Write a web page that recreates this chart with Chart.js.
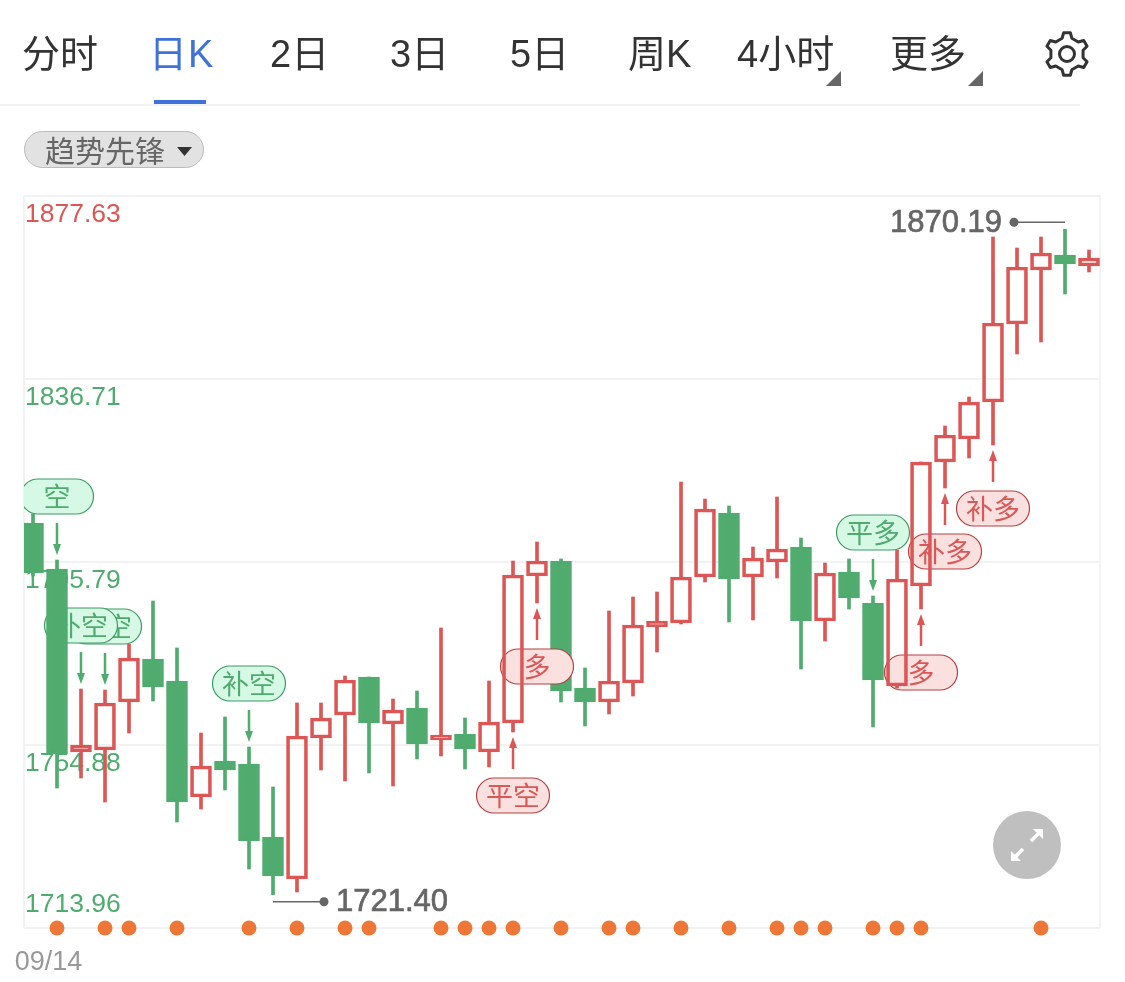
<!DOCTYPE html>
<html>
<head>
<meta charset="utf-8">
<script src="https://cdn.jsdelivr.net/npm/chart.js@4/dist/chart.umd.min.js"></script>
<style>
    html, body { margin: 0; padding: 0; background: #fff; width: 1125px; height: 982px; overflow: hidden; }
    body { position: relative; font-family: "Liberation Sans", "Noto Sans CJK SC", sans-serif; }
    canvas { position: absolute; left: 0; top: 0; }
    .tab { position: absolute; top: 29px; height: 50px; line-height: 50px; font-size: 38px; color: #333; white-space: nowrap; }
    .tab.active { color: #3f72d9; }
    #underline { position: absolute; left: 154px; top: 100px; width: 52px; height: 4px; background: #3f72d9; }
    #divider { position: absolute; left: 0; top: 104px; width: 1080px; height: 2px; background: #f2f2f2; }
    .corner { position: absolute; width: 15px; height: 15px; background: #666; clip-path: polygon(100% 0, 100% 100%, 0 100%); }
    #strategy { position: absolute; left: 24px; top: 131px; width: 178px; height: 35px; border: 1px solid #bbb; border-radius: 19px; background: #e2e2e2; color: #666; font-size: 30px; line-height: 35px; }
    #strategy span { position: absolute; left: 20px; top: 2px; }
    #strategy i { position: absolute; left: 152px; top: 15px; width: 15px; height: 9px; background: #333; clip-path: polygon(0 0, 100% 0, 50% 100%); }
    #gear { position: absolute; left: 1043px; top: 30px; }
    #expand { position: absolute; left: 993px; top: 811px; }
</style>
</head>
<body>
<canvas id="myChart" width="1125" height="982"></canvas>

<span class="tab" style="left:22px">分时</span>
<span class="tab active" style="left:149px">日<span style="margin-left:1px">K</span></span>
<span class="tab" style="left:270px">2日</span>
<span class="tab" style="left:390px">3日</span>
<span class="tab" style="left:510px">5日</span>
<span class="tab" style="left:628px">周K</span>
<span class="tab" style="left:737px">4小时</span>
<span class="tab" style="left:890px">更多</span>
<div class="corner" style="left:826px;top:71px"></div>
<div class="corner" style="left:968px;top:71px"></div>
<div id="underline"></div>
<div id="divider"></div>
<div id="strategy"><span>趋势先锋</span><i></i></div>
<svg id="gear" width="48" height="48" viewBox="0 0 48 48" fill="none" stroke="#333" stroke-width="3" stroke-linejoin="round">
    <circle cx="24" cy="24" r="7.5"></circle>
    <path id="gearPath"></path>
</svg>
<svg id="expand" width="68" height="68" viewBox="0 0 68 68">
    <circle cx="34" cy="34" r="34" fill="#bfbfbf"></circle>
    <path d="M38 30 L46 22" stroke="#fff" stroke-width="3.5"></path>
    <path d="M40 18 L50 18 L50 28 Z" fill="#fff"></path>
    <path d="M30 38 L22 46" stroke="#fff" stroke-width="3.5"></path>
    <path d="M18 40 L18 50 L28 50 Z" fill="#fff"></path>
</svg>

<script>
var axisTicks = [1877.63, 1836.71, 1795.79, 1754.88, 1713.96];
var firstDate = '09/14';

// Bougies : ouverture, cloture, plus haut, plus bas
var opens = [1804.52, 1794.23, 1753.31, 1753.76, 1764.49, 1774.11, 1769.19, 1743.25, 1751.30, 1750.63, 1734.31, 1724.92, 1756.44, 1761.59, 1770.08,
    1759.57, 1763.15, 1756.00, 1757.34, 1753.31, 1759.80, 1792.67, 1796.02, 1767.62, 1764.49, 1768.74, 1781.26, 1782.16, 1792.44, 1806.75,
    1792.44, 1795.80, 1799.15, 1782.60, 1793.56, 1786.63, 1768.07, 1790.43, 1818.16, 1823.30, 1831.57, 1849.01, 1861.09, 1864.44, 1861.98];
var closes = [1793.34, 1752.87, 1754.88, 1764.27, 1774.33, 1767.85, 1742.13, 1750.18, 1749.29, 1733.41, 1725.59, 1756.89, 1760.92, 1769.41, 1759.80,
    1762.70, 1755.10, 1757.11, 1753.98, 1760.02, 1792.89, 1796.02, 1766.95, 1764.49, 1769.19, 1781.71, 1782.60, 1792.44, 1807.65, 1792.00,
    1796.69, 1798.70, 1782.60, 1793.34, 1787.75, 1769.41, 1792.00, 1818.16, 1824.19, 1831.57, 1849.24, 1861.76, 1864.89, 1862.43, 1863.77];
var highs = [1806.53, 1796.24, 1767.40, 1767.18, 1777.46, 1787.08, 1776.57, 1757.56, 1761.14, 1754.43, 1745.49, 1764.27, 1764.27, 1770.31, 1770.08,
    1765.16, 1766.95, 1781.04, 1760.92, 1769.19, 1796.02, 1800.27, 1796.47, 1772.10, 1784.84, 1787.97, 1789.09, 1813.68, 1809.88, 1808.32,
    1799.15, 1810.33, 1801.16, 1795.57, 1796.47, 1788.19, 1798.48, 1818.16, 1826.21, 1832.69, 1868.47, 1866.01, 1868.47, 1870.19, 1865.56];
var lows = [1792.67, 1745.26, 1747.50, 1742.13, 1757.56, 1764.72, 1737.66, 1740.57, 1744.82, 1727.15, 1721.40, 1722.01, 1749.29, 1746.83, 1748.62,
    1745.71, 1751.75, 1752.42, 1749.51, 1749.96, 1757.78, 1786.63, 1764.49, 1759.13, 1761.81, 1765.83, 1775.67, 1781.93, 1791.32, 1782.38,
    1782.83, 1792.22, 1771.87, 1778.13, 1785.29, 1758.90, 1767.62, 1785.29, 1812.34, 1819.05, 1821.96, 1842.31, 1844.99, 1855.72, 1860.64];

// Signaux : position de la bougie et texte de la pastille
var signalIndexes = [1, 2, 3, 9, 20, 21, 35, 37, 38, 40];
var signalLabels = ['空', '补空', '补空', '补空', '平空', '多', '平多', '多', '补多', '补多'];
var signalSides = ['sell', 'sell', 'sell', 'sell', 'buy', 'buy', 'sell', 'buy', 'buy', 'buy'];

// Points orange sur l'axe du bas
var dotIndexes = [1, 3, 4, 6, 9, 11, 13, 14, 17, 18, 19, 20, 22, 24, 25, 27, 29, 31, 32, 33, 35, 36, 37, 42];

var RED = '#dc5656';
var GREEN = '#4fab6e';
var xMin = -0.375;
var xMax = 44.458;

// Icone reglages : roue a six dents
function buildGear() {
    var d = '';
    for (var k = 0; k < 6; k++) {
        var a = (-90 + 60 * k) * Math.PI / 180;
        var parts = [[16.5, -17], [21.5, -9], [21.5, 9], [16.5, 17]];
        parts.forEach(function(p) {
            var t = a + p[1] * Math.PI / 180;
            d += (d === '' ? 'M' : 'L') + (24 + p[0] * Math.cos(t)).toFixed(2) + ' ' + (24 + p[0] * Math.sin(t)).toFixed(2) + ' ';
        });
    }
    document.getElementById('gearPath').setAttribute('d', d + 'Z');
}

function isRed(i) {
    return closes[i] >= opens[i];
}

function bodyTop(i) {
    return Math.max(opens[i], closes[i]);
}

function bodyBottom(i) {
    return Math.min(opens[i], closes[i]);
}

var candleColors = opens.map(function(v, i) { return isRed(i) ? RED : GREEN; });
var bodyFills = opens.map(function(v, i) { return isRed(i) ? 'rgba(0, 0, 0, 0)' : GREEN; });

function barDataset(label, thickness, points, fill, borderWidth) {
    return {
        label: label,
        data: points,
        grouped: false,
        barThickness: thickness,
        backgroundColor: fill,
        borderColor: candleColors,
        borderWidth: borderWidth,
        borderSkipped: false
    };
}

var wickUp = opens.map(function(v, i) { return { x: i, y: [bodyTop(i), highs[i]] }; });
var wickDown = opens.map(function(v, i) { return { x: i, y: [lows[i], bodyBottom(i)] }; });
var bodies = opens.map(function(v, i) { return { x: i, y: [bodyBottom(i), bodyTop(i)] }; });
var dots = dotIndexes.map(function(i) { return { x: i, y: axisTicks[axisTicks.length - 1] }; });

function roundedPill(ctx, x, y, w, h) {
    ctx.beginPath();
    ctx.roundRect(x, y, w, h, h / 2);
}

function drawSignal(ctx, chart, s) {
    var i = signalIndexes[s];
    var yScale = chart.scales.y;
    var x = chart.scales.x.getPixelForValue(i);
    var sell = signalSides[s] === 'sell';
    var dir = sell ? -1 : 1;
    var anchor = yScale.getPixelForValue(sell ? highs[i] : lows[i]);
    var tip = anchor + dir * 5;
    var tail = tip + dir * 32;
    var pillY = sell ? tail - 9 - 35 : tail + 9;
    var color = sell ? GREEN : RED;

    ctx.strokeStyle = color;
    ctx.lineWidth = 2.5;
    ctx.beginPath();
    ctx.moveTo(x, tail);
    ctx.lineTo(x, tip + dir * 6);
    ctx.stroke();
    ctx.fillStyle = color;
    ctx.beginPath();
    ctx.moveTo(x, tip);
    ctx.lineTo(x - 4, tip + dir * 11);
    ctx.lineTo(x + 4, tip + dir * 11);
    ctx.closePath();
    ctx.fill();

    roundedPill(ctx, x - 36.5, pillY, 73, 35);
    ctx.fillStyle = sell ? '#d6f9e6' : '#fbe0e0';
    ctx.fill();
    ctx.lineWidth = 1.2;
    ctx.strokeStyle = sell ? '#3e9a66' : '#b5403f';
    ctx.stroke();

    ctx.fillStyle = color;
    ctx.font = '27px "Noto Sans CJK SC"';
    ctx.textAlign = 'center';
    ctx.textBaseline = 'middle';
    ctx.fillText(signalLabels[s], x, pillY + 18);
}

function drawExtreme(ctx, chart, value, toLeft, lineOffset) {
    var x = chart.scales.x.getPixelForValue((toLeft ? highs : lows).indexOf(value));
    var y = chart.scales.y.getPixelForValue(value) + lineOffset;
    var dotX = toLeft ? x - 51 : x + 51;
    var label = value.toFixed(2);
    var labelX = toLeft ? dotX - 12 : dotX + 12;

    ctx.strokeStyle = '#666';
    ctx.lineWidth = 1.3;
    ctx.beginPath();
    ctx.moveTo(x, y);
    ctx.lineTo(dotX, y);
    ctx.stroke();
    ctx.fillStyle = '#666';
    ctx.beginPath();
    ctx.arc(dotX, y, 4.5, 0, Math.PI * 2);
    ctx.fill();

    ctx.font = '31px "Liberation Sans"';
    ctx.textBaseline = 'middle';
    ctx.textAlign = toLeft ? 'right' : 'left';
    ctx.lineWidth = 0.7;
    ctx.fillText(label, labelX, y + 1);
    ctx.strokeText(label, labelX, y + 1);
}

// Les bougies sont dessinees de droite a gauche, chaque signal juste apres sa bougie
var candlePainter = {
    id: 'candlePainter',
    beforeDatasetDraw: function(chart, args) {
        return args.meta.type !== 'bar' ? undefined : false;
    },
    afterDatasetsDraw: function(chart) {
        var ctx = chart.ctx;
        var area = chart.chartArea;
        ctx.save();
        ctx.beginPath();
        ctx.rect(area.left, area.top, area.right - area.left, area.bottom - area.top);
        ctx.clip();
        for (var i = opens.length - 1; i >= 0; i--) {
            chart.getDatasetMeta(0).data[i].draw(ctx);
            chart.getDatasetMeta(1).data[i].draw(ctx);
            chart.getDatasetMeta(2).data[i].draw(ctx);
            var s = signalIndexes.indexOf(i);
            if (s !== -1) {
                drawSignal(ctx, chart, s);
            }
        }
        ctx.restore();
        drawExtreme(ctx, chart, Math.max.apply(null, highs), true, -7);
        drawExtreme(ctx, chart, Math.min.apply(null, lows), false, 7);
    }
};

buildGear();

var ctx = document.getElementById('myChart').getContext('2d');
var myChart = new Chart(ctx, {
    type: 'bar',
    plugins: [candlePainter],
    data: {
        datasets: [
            barDataset('wickUp', 3, wickUp, candleColors, 0),
            barDataset('wickDown', 3, wickDown, candleColors, 0),
            barDataset('body', 21, bodies, bodyFills, 3),
            {
                type: 'scatter',
                label: 'dots',
                data: dots,
                clip: false,
                pointRadius: 7.5,
                pointBackgroundColor: '#ee7737',
                pointBorderWidth: 0
            }
        ]
    },
    options: {
        responsive: false,
        animation: false,
        events: [],
        layout: { padding: { left: 24, right: 25, top: 196, bottom: 0 } },
        plugins: { legend: { display: false }, tooltip: { enabled: false } },
        scales: {
            x: {
                type: 'linear',
                offset: false,
                min: xMin,
                max: xMax,
                afterBuildTicks: function(scale) {
                    scale.ticks = [{ value: xMin }, { value: 0 }, { value: xMax }];
                },
                afterFit: function(scale) {
                    scale.height = 54;
                },
                grid: {
                    offset: false,
                    drawTicks: false,
                    lineWidth: 2,
                    color: function(c) { return c.index === 1 ? 'rgba(0, 0, 0, 0)' : '#f2f2f2'; }
                },
                border: { display: false },
                ticks: {
                    autoSkip: false,
                    maxRotation: 0,
                    padding: 18,
                    labelOffset: 15.5,
                    color: '#999',
                    font: { size: 27, family: '"Liberation Sans"' },
                    callback: function(value) { return value === 0 ? firstDate : ''; }
                }
            },
            y: {
                min: axisTicks[axisTicks.length - 1],
                max: axisTicks[0],
                afterBuildTicks: function(scale) {
                    scale.ticks = axisTicks.map(function(v) { return { value: v }; });
                },
                afterFit: function(scale) {
                    scale.width = 0;
                },
                grid: { drawTicks: false, lineWidth: 2, color: '#f2f2f2' },
                border: { display: false },
                ticks: {
                    mirror: true,
                    padding: 1,
                    labelOffset: 19,
                    autoSkip: false,
                    font: { size: 26.5, family: '"Liberation Sans"' },
                    color: function(c) { return c.index === 0 ? RED : GREEN; },
                    callback: function(value) {
                        return value === axisTicks[axisTicks.length - 1] ? '' : value.toFixed(2);
                    }
                }
            },
            // Axe separe : le dernier libelle est au-dessus de sa ligne
            yBottom: {
                position: 'left',
                min: axisTicks[axisTicks.length - 1],
                max: axisTicks[0],
                afterBuildTicks: function(scale) {
                    scale.ticks = [{ value: axisTicks[axisTicks.length - 1] }];
                },
                afterFit: function(scale) {
                    scale.width = 0;
                },
                grid: { display: false },
                border: { display: false },
                ticks: {
                    mirror: true,
                    padding: 1,
                    labelOffset: -23,
                    font: { size: 26.5, family: '"Liberation Sans"' },
                    color: GREEN,
                    callback: function(value) { return value.toFixed(2); }
                }
            }
        }
    }
});
</script>
</body>
</html>
